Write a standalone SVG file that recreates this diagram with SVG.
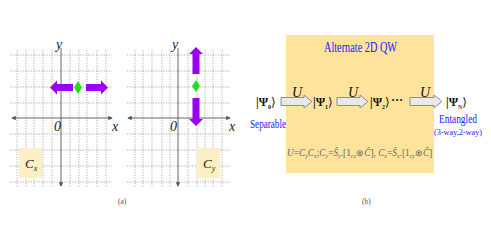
<svg xmlns="http://www.w3.org/2000/svg" width="491" height="240" viewBox="0 0 491 240">
<style>
.grid{stroke:#999;stroke-width:0.8;stroke-dasharray:1.2,1.4;fill:none}
.axis{stroke:#555;stroke-width:0.9;fill:none}
.ax{font-family:"Liberation Serif",serif;font-style:italic;font-size:14px;fill:#222}
.purple{fill:#9a00f5}
.green{fill:#22dd22}
.cbox{fill:#fcefc6}
.ctext{font-family:"Liberation Serif",serif;font-style:italic;font-size:13px;fill:#222}
.cap{font-family:"Liberation Serif",serif;font-size:7.5px;fill:#555}
.psi{font-family:"Liberation Serif","DejaVu Serif",serif;font-size:12px;font-weight:bold;fill:#111}
.U{font-family:"Liberation Serif",serif;font-style:italic;font-size:14px;fill:#111}
.blue{font-family:"Liberation Serif",serif;fill:#2020ff}
.hollow{fill:#e9e9e9;stroke:#8c8c8c;stroke-width:1}
.formula{font-family:"Liberation Serif",serif;font-style:italic;font-size:9.3px;fill:#6a6a6a}
</style>
<defs>
<marker id="ah" viewBox="0 0 6 6" refX="5" refY="3" markerWidth="5" markerHeight="5" orient="auto-start-reverse"><path d="M0,0 L6,3 L0,6 Z" fill="#555"/></marker>
</defs>

<g id="panel-a">
<path class="grid" d="M10,55H112M10,71H112M10,87H112M10,103H112M10,134H112M10,150H112M10,166H112M10,182H112"/>
<path class="grid" d="M17,50V187M26,50V187M34,50V187M43,50V187M52,50V187M70,50V187M79,50V187M87,50V187M97,50V187M106,50V187"/>
<line class="axis" x1="12" y1="118" x2="112" y2="118" marker-start="url(#ah)" marker-end="url(#ah)"/>
<line class="axis" x1="61" y1="48" x2="61" y2="186" marker-end="url(#ah)"/>
<text class="ax" x="56" y="49">y</text>
<text class="ax" x="54" y="131">0</text>
<text class="ax" x="112" y="131">x</text>
<path class="purple" d="M50,87.5 L57,80.5 L57,84 L73,84 L73,91 L57,91 L57,94.5 Z"/>
<path class="purple" d="M108,87.5 L101,80.5 L101,84 L86,84 L86,91 L101,91 L101,94.5 Z"/>
<path class="green" d="M78,81 L82,87.5 L78,94 L74,87.5 Z"/>
<g id="Cx">
<rect class="cbox" x="19" y="148" width="23" height="30"/>
<text class="ctext" x="25" y="168">C<tspan font-size="8" dy="3">x</tspan></text>
</g>
<text class="cap" x="118" y="204">(a)</text>
</g>

<g id="panel-b">
<path class="grid" d="M127,55H230M127,71H230M127,87H230M127,103H230M127,134H230M127,150H230M127,166H230M127,182H230"/>
<path class="grid" d="M135,50V187M143,50V187M152,50V187M162,50V187M170,50V187M188,50V187M197,50V187M205,50V187M213,50V187M222,50V187"/>
<line class="axis" x1="128" y1="118" x2="230" y2="118" marker-start="url(#ah)" marker-end="url(#ah)"/>
<line class="axis" x1="178" y1="48" x2="178" y2="186" marker-end="url(#ah)"/>
<text class="ax" x="172" y="49">y</text>
<text class="ax" x="170" y="131">0</text>
<text class="ax" x="229" y="131">x</text>
<path class="purple" d="M196,47 L203,54 L199.5,54 L199.5,74 L192.5,74 L192.5,54 L189,54 Z"/>
<path class="purple" d="M196,126 L203,119 L199.5,119 L199.5,98 L192.5,98 L192.5,119 L189,119 Z"/>
<path class="green" d="M196,80 L200,86 L196,92 L192,86 Z"/>
<g id="Cy">
<rect class="cbox" x="197" y="148" width="23" height="30"/>
<text class="ctext" x="203" y="168">C<tspan font-size="8" dy="3">y</tspan></text>
</g>
</g>

<g id="qw-box">
<rect x="286" y="35" width="148" height="138" fill="#fde39b"/>
<text class="blue" x="324" y="52" font-size="14" textLength="73" lengthAdjust="spacingAndGlyphs">Alternate 2D QW</text>
<text class="formula" x="287" y="156">U<tspan font-style="normal">=</tspan>C<tspan font-size="6" dy="2">y</tspan><tspan dy="-2">C</tspan><tspan font-size="6" dy="2">x</tspan><tspan dy="-2" font-style="normal">;</tspan>C<tspan font-size="6" dy="2">y</tspan><tspan dy="-2" font-style="normal">=</tspan>Ŝ<tspan font-size="6" dy="2">y</tspan><tspan dy="-2" font-style="normal">.[1</tspan><tspan font-size="6" dy="2">cx</tspan><tspan dy="-2" font-style="normal">⊗</tspan>Ĉ<tspan font-style="normal">], </tspan>C<tspan font-size="6" dy="2">x</tspan><tspan dy="-2" font-style="normal">=</tspan>Ŝ<tspan font-size="6" dy="2">x</tspan><tspan dy="-2" font-style="normal">.[1</tspan><tspan font-size="6" dy="2">cy</tspan><tspan dy="-2" font-style="normal">⊗</tspan>Ĉ<tspan font-style="normal">]</tspan></text>
<text class="cap" x="362" y="204">(b)</text>
</g>

<g id="psi0">
<text class="psi" x="256" y="106">|Ψ<tspan font-size="6" dy="3">0</tspan><tspan dy="-3" font-family="DejaVu Sans" font-weight="normal">⟩</tspan></text>
<text class="blue" x="250" y="128" font-size="12" textLength="36" lengthAdjust="spacingAndGlyphs">Separable</text>
</g>
<g id="psi1">
<text class="psi" x="313" y="106">|Ψ<tspan font-size="6" dy="3">1</tspan><tspan dy="-3" font-family="DejaVu Sans" font-weight="normal">⟩</tspan></text>
</g>
<g id="psi2">
<text class="psi" x="370" y="106">|Ψ<tspan font-size="6" dy="3">2</tspan><tspan dy="-3" font-family="DejaVu Sans" font-weight="normal">⟩</tspan></text>
<text class="psi" x="391" y="104" font-weight="normal">···</text>
</g>
<g id="psiN">
<text class="psi" x="446" y="106">|Ψ<tspan font-size="6" dy="3" fill="#c00">N</tspan><tspan dy="-3" font-family="DejaVu Sans" font-weight="normal">⟩</tspan></text>
<text class="blue" x="439" y="123" font-size="12" textLength="38" lengthAdjust="spacingAndGlyphs">Entangled</text>
<text class="blue" x="434" y="135" font-size="8.5" textLength="48" lengthAdjust="spacingAndGlyphs">(3-way,2-way)</text>
</g>

<g id="connectors">
<path class="hollow" d="M281,97.5 L304,97.5 L304,95 L312,101.5 L304,108 L304,105.5 L281,105.5 Z"/>
<text class="U" x="292" y="97">U</text>
<path class="hollow" d="M337,97.5 L360,97.5 L360,95 L368,101.5 L360,108 L360,105.5 L337,105.5 Z"/>
<text class="U" x="348" y="97">U</text>
<path class="hollow" d="M410,97.5 L434,97.5 L434,95 L442,101.5 L434,108 L434,105.5 L410,105.5 Z"/>
<text class="U" x="420" y="97">U</text>
</g>
</svg>
